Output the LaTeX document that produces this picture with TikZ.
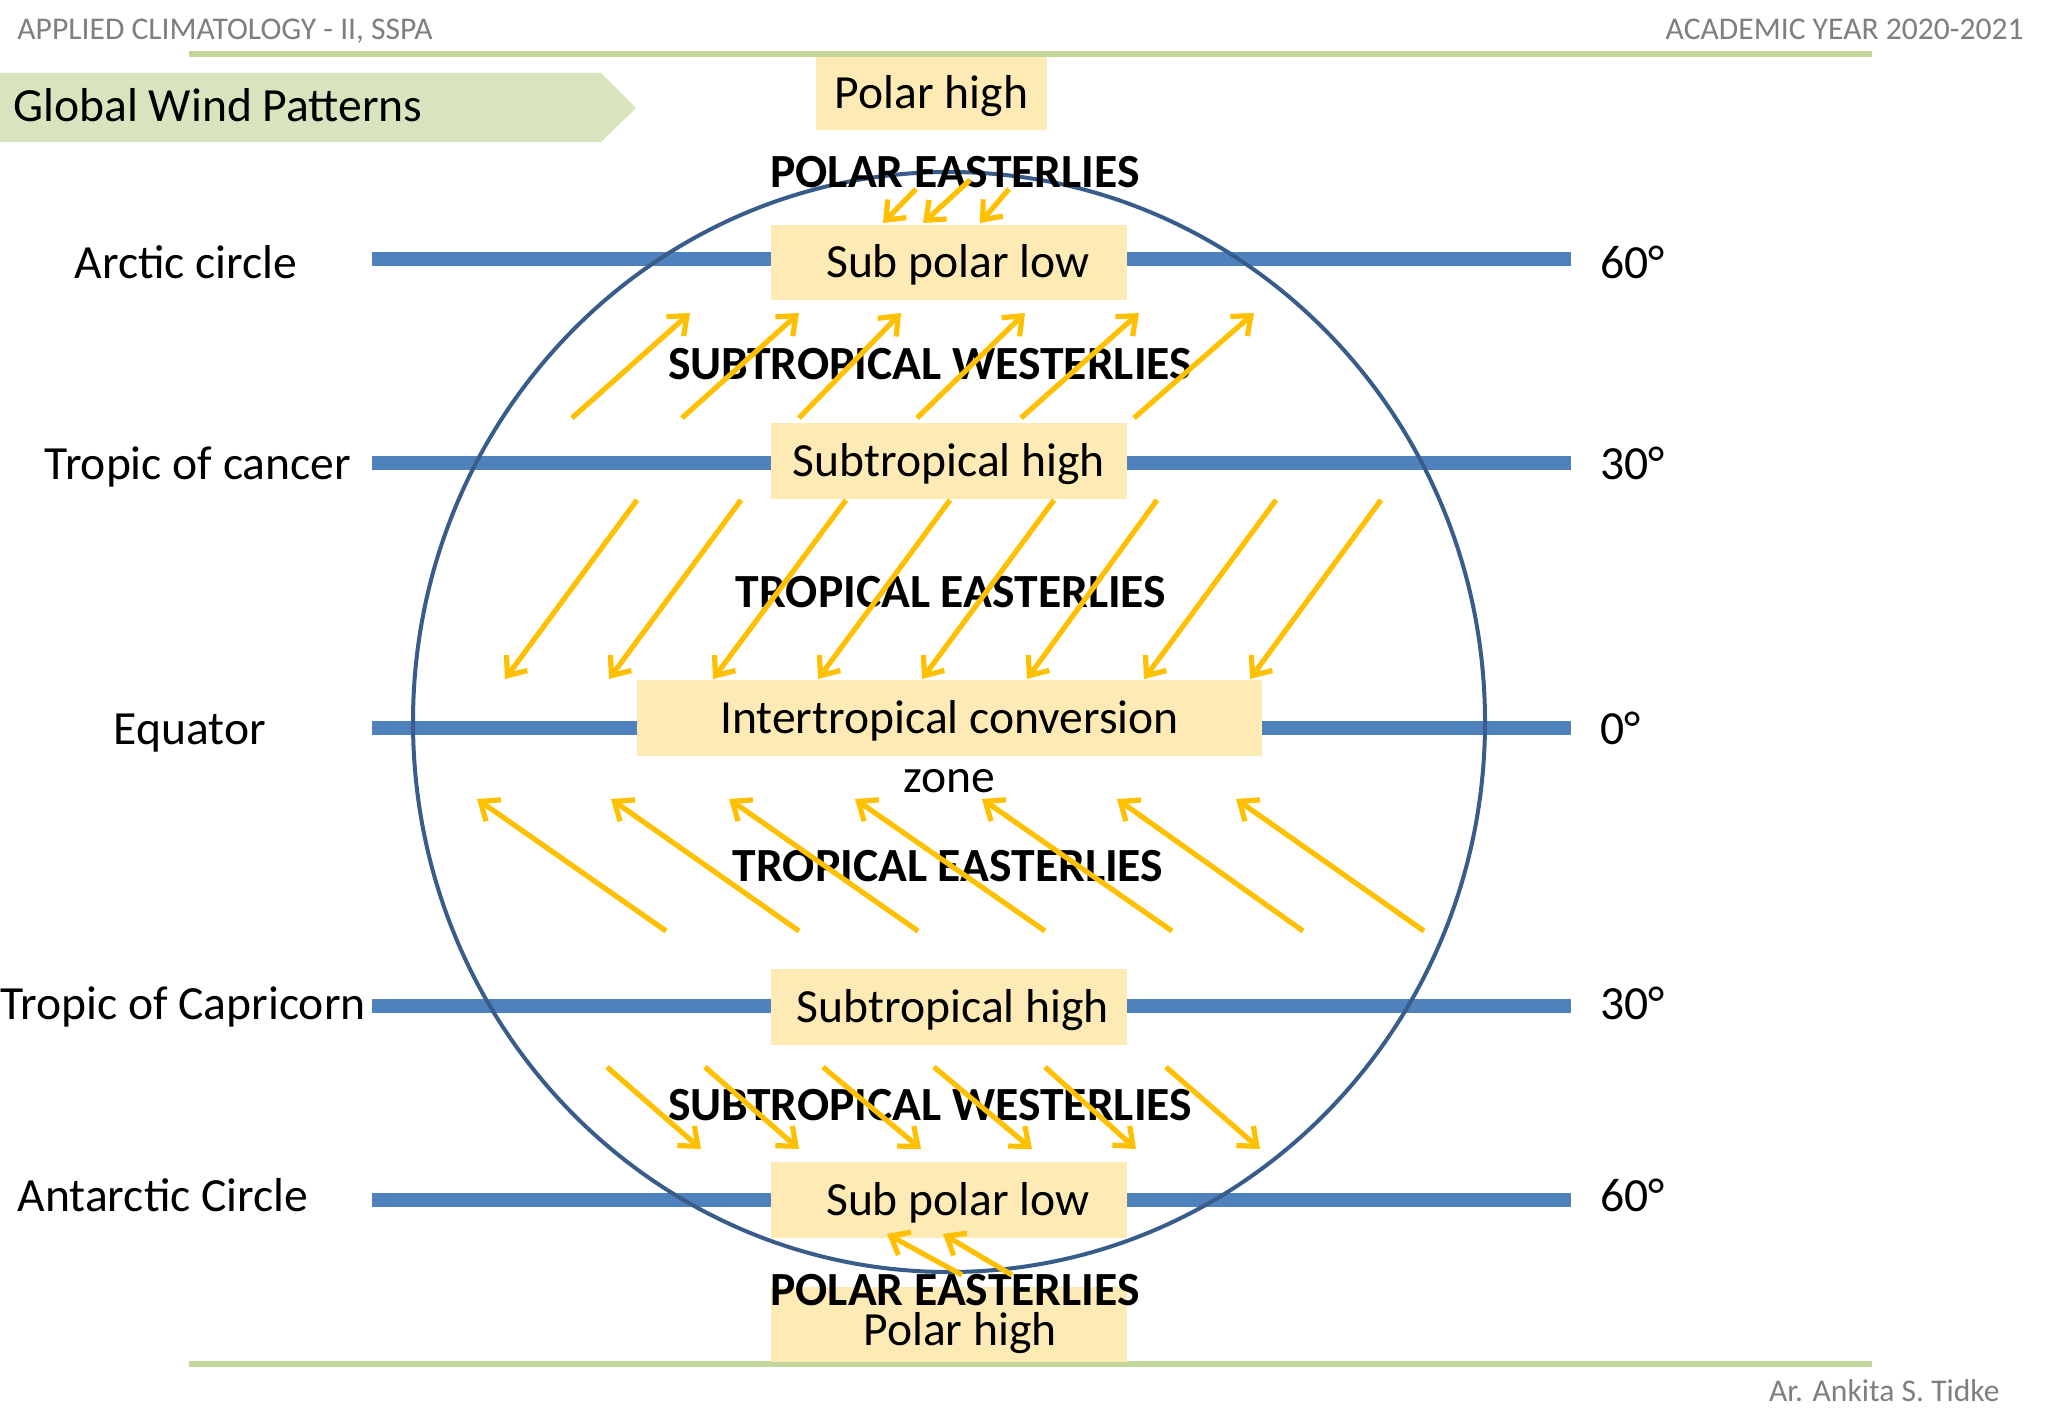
\documentclass[tikz,border=0pt]{standalone}
\usepackage{fontspec}
\setmainfont{Carlito}
\usetikzlibrary{arrows.meta}
\definecolor{lineblue}{HTML}{4F81BD}
\definecolor{circblue}{HTML}{385D8A}
\definecolor{windgold}{HTML}{FFC000}
\definecolor{boxfill}{RGB}{253,234,181}
\definecolor{bannergreen}{HTML}{D7E4BD}
\definecolor{rulegreen}{HTML}{C3D69B}
\definecolor{headgray}{HTML}{7F7F7F}
\begin{document}
\begin{tikzpicture}[x=0.5pt,y=-0.5pt,
  lat/.style={line width=7pt, lineblue},
  rulel/.style={line width=3pt, rulegreen},
  wind/.style={line width=2.6pt, windgold, -{Straight Barb[length=8pt,width=13pt]}},
  pbox/.style={fill=boxfill, inner sep=0pt, font=\fontsize{23.8}{28}\selectfont, text height=15.3pt, text depth=0pt},
  lbl/.style={inner sep=0pt, font=\fontsize{23.8}{28}\selectfont, text height=15.3pt, text depth=0pt},
  wname/.style={inner sep=0pt, font=\fontsize{23.8}{28}\selectfont\bfseries, text height=15.3pt, text depth=0pt},
  hdr/.style={inner sep=0pt, headgray, font=\fontsize{15.8}{18}\selectfont, text height=10.2pt, text depth=0pt}]
\useasboundingbox (0,0) rectangle (2048,1418);
\fill[white] (0,0) rectangle (2048,1418);
% header / footer
\draw[rulel] (189,54) -- (1872,54);
\draw[rulel] (189,1364) -- (1872,1364);
\node[hdr, anchor=west] (hl) at (17,29) {APPLIED CLIMATOLOGY - II, SSPA};
\node[hdr, anchor=east] (hr) at (2024,29) {ACADEMIC YEAR 2020-2021};
\node[hdr, anchor=east] (ft) at (2000,1391) {Ar. Ankita S. Tidke};
% banner
\fill[bannergreen] (0,73) -- (601,73) -- (636,108) -- (601,142) -- (0,142) -- cycle;
\node[lbl, anchor=west] (title) at (13,106) {Global Wind Patterns};
% latitude lines
\foreach \yy in {259,463,728,1006,1200} \draw[lat] (372,\yy) -- (1571,\yy);
% globe
\draw[circblue, line width=2pt] (949,722) ellipse [x radius=536, y radius=550];
% boxes (sizes in pt = half of pixel size)
\node[pbox, minimum width=115.5pt, minimum height=36.5pt] (ph1) at (931.5,93.5) {Polar high};
\node[pbox, minimum width=178pt, minimum height=37.5pt] (spl1) at (949,262.5) {\hspace*{9pt}Sub polar low};
\node[pbox, minimum width=178pt, minimum height=38pt] (sth1) at (949,461) {Subtropical high};
\node[pbox, minimum width=312.5pt, minimum height=38pt] (itcz) at (949.5,718) {Intertropical conversion};
\node[lbl] (zone) at (949,777) {zone};
\node[pbox, minimum width=178pt, minimum height=38pt] (sth2) at (949,1007) {\hspace*{4pt}Subtropical high};
\node[pbox, minimum width=178pt, minimum height=38pt] (spl2) at (949,1200) {\hspace*{9pt}Sub polar low};
\node[pbox, minimum width=178pt, minimum height=37.5pt] (ph2box) at (949,1324.5) {};
\node[lbl] (ph2) at (960,1330) {Polar high};
% wind names
\node[wname] (pe1) at (955,172) {POLAR EASTERLIES};
\node[wname] (sw1) at (930,364) {SUBTROPICAL WESTERLIES};
\node[wname] (te1) at (951,592) {TROPICAL EASTERLIES};
\node[wname] (te2) at (948,866) {TROPICAL EASTERLIES};
\node[wname] (sw2) at (930,1105) {SUBTROPICAL WESTERLIES};
\node[wname] (pe2) at (955,1290) {POLAR EASTERLIES};
% left labels
\node[lbl] (arc) at (186,263) {Arctic circle};
\node[lbl] (cancer) at (198,464) {Tropic of cancer};
\node[lbl] (eq) at (190,729) {Equator};
\node[lbl] (capri) at (183,1004) {Tropic of Capricorn};
\node[lbl] (antarc) at (163,1196) {Antarctic Circle};
% right labels
\node[lbl, anchor=west] (d60n) at (1600,263) {60°};
\node[lbl, anchor=west] (d30n) at (1600,464) {30°};
\node[lbl, anchor=west] (d0) at (1600,729) {0°};
\node[lbl, anchor=west] (d30s) at (1600,1004) {30°};
\node[lbl, anchor=west] (d60s) at (1600,1196) {60°};
% polar easterlies (north)
\draw[wind] (916,189) -- (883,223);
\draw[wind] (970,180) -- (923,223);
\draw[wind] (1009,189) -- (980,223);
% subtropical westerlies (north)
\foreach \a/\b in {572/690,682/799,799/901,917/1025,1021/1139,1134/1254}
  \draw[wind] (\a,418) -- (\b,313);
% tropical easterlies (north)
\foreach \a/\b in {637/505,741/609,846/713,950/818,1054/922,1157/1027,1276/1144,1381/1250}
  \draw[wind] (\a,500) -- (\b,679);
% tropical easterlies (south)
\foreach \a/\b in {666/477,799/611,918/729,1045/855,1172/982,1303/1117,1424/1236}
  \draw[wind] (\a,931) -- (\b,799);
% subtropical westerlies (south)
\foreach \a/\b in {607/701,705/799,823/921,934/1032,1045/1136,1166/1260}
  \draw[wind] (\a,1067) -- (\b,1149);
% polar easterlies (south)
\draw[wind] (962,1275) -- (887,1234);
\draw[wind] (1012,1275) -- (943,1234);
\end{tikzpicture}
\end{document}
